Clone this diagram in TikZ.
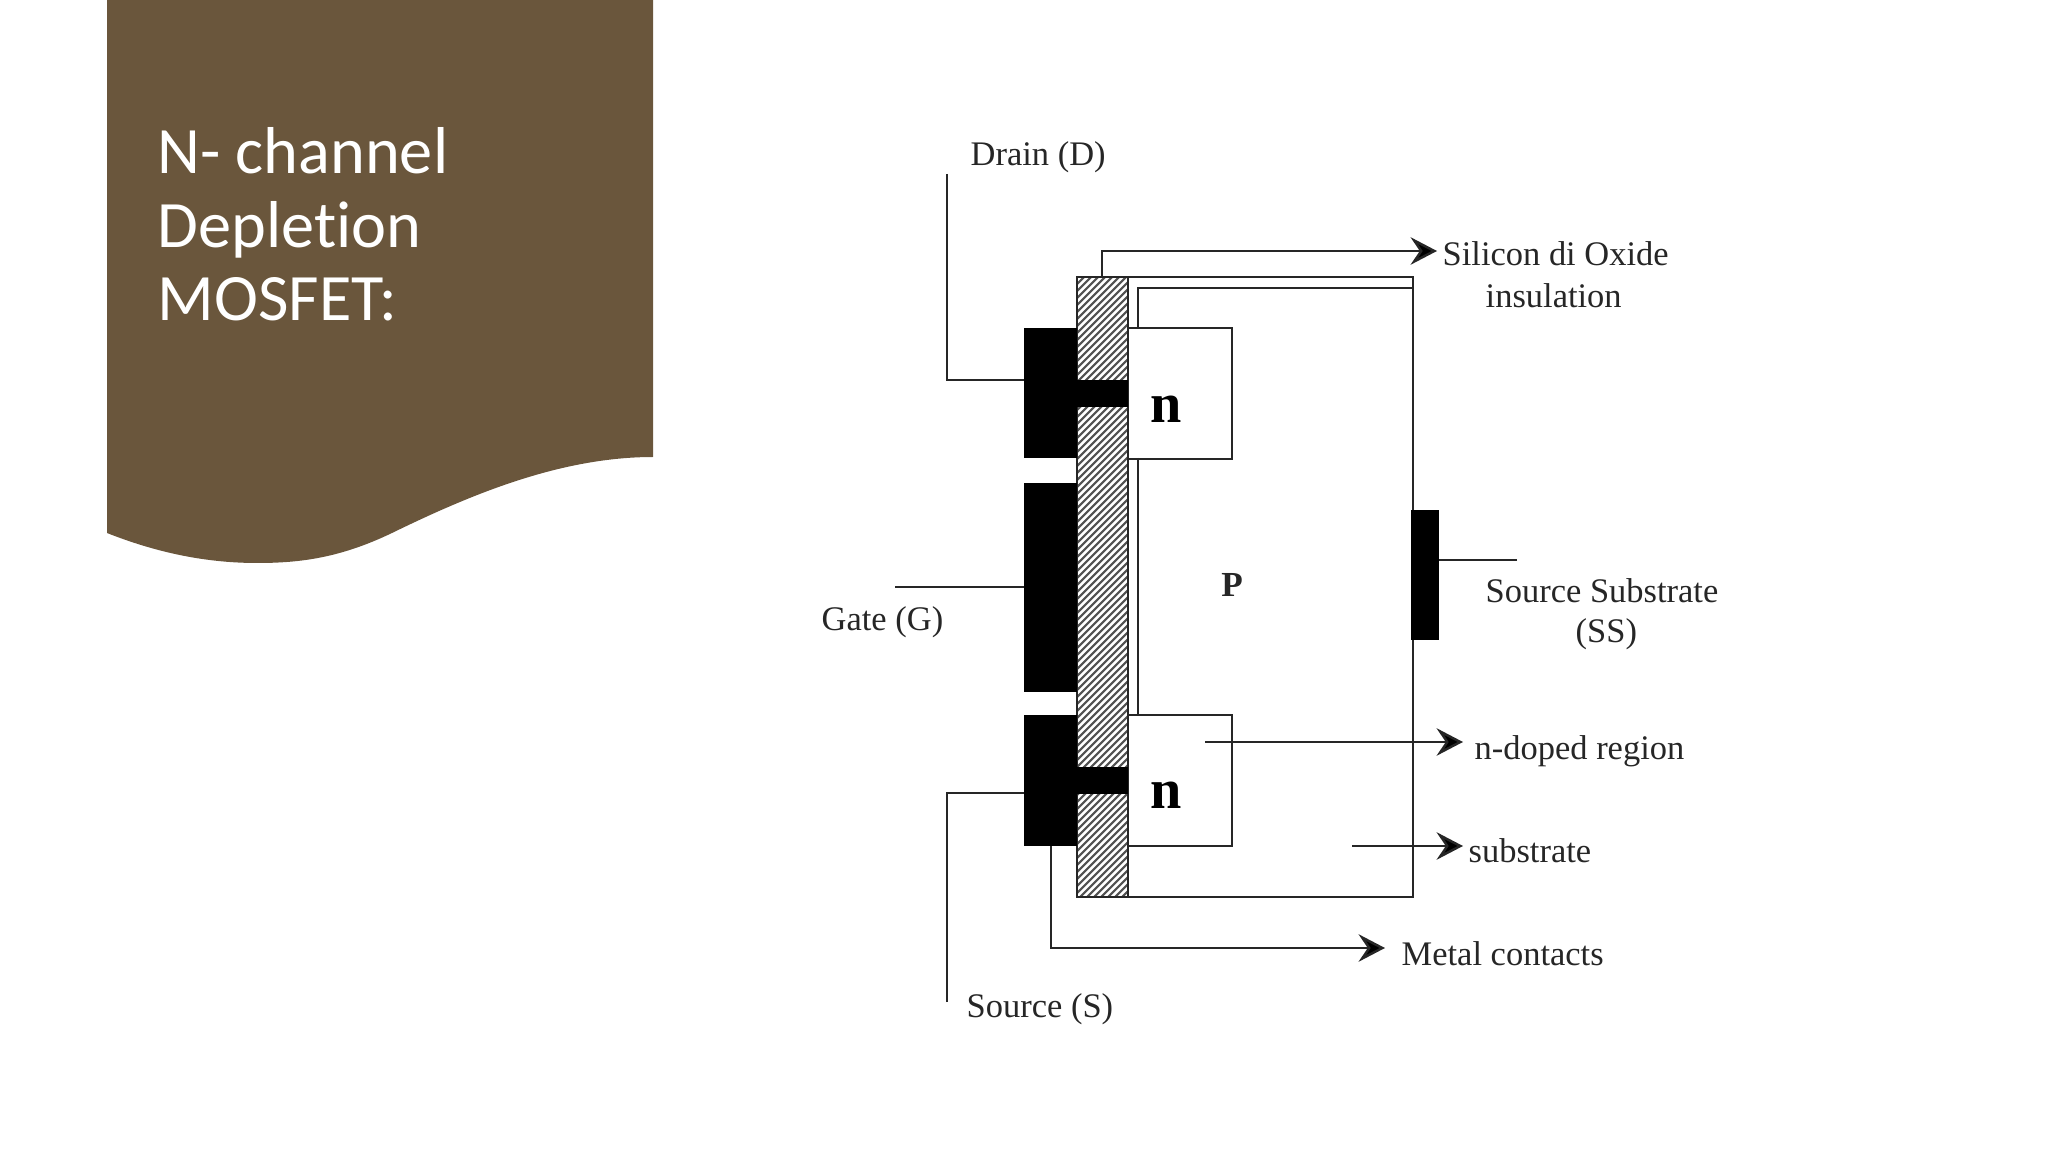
\documentclass[tikz,border=0pt]{standalone}
\usepackage{fontspec}
\setmainfont{Liberation Serif}
\newfontfamily\titlefont[Ligatures=CommonOff]{Carlito}
\usetikzlibrary{arrows.meta}
\definecolor{banner}{HTML}{6A563C}
\definecolor{inkline}{HTML}{262626}
\tikzset{
  wire/.style={draw=inkline,line width=0.7pt},
  leader/.style={wire,-{Stealth[length=7.5pt,width=7.8pt,inset=2.6pt,fill=black]}},
  hatch/.style={draw=inkline!80,line width=0.6pt},
  label/.style={anchor=west,inner sep=0pt,text=inkline,font=\fontsize{9.8}{12}\selectfont},
  dope/.style={inner sep=0pt,text=black,font=\fontsize{16}{16}\bfseries}
}
\begin{document}
\begin{tikzpicture}[x=0.01cm,y=-0.01cm]
  \useasboundingbox (0,0) rectangle (2048,1152);
  \fill[banner] (107,0) -- (653,0) -- (653,457)
    .. controls (560,457) and (470,495) .. (392,533)
    .. controls (340,558) and (300,563) .. (257,563)
    .. controls (200,563) and (150,550) .. (107,533) -- cycle;
  \node (title) [anchor=north west,align=left,text=white,inner sep=0pt,
    font=\titlefont\fontsize{18.85}{20.9}\selectfont] at (157,127)
    {N- channel\\Depletion\\MOSFET:};

  \begin{scope}
    \clip (1077,277) rectangle (1128,897);
    \foreach \i in {0,...,96}
    {
      \pgfmathsetmacro{\x}{(457 + \i*7)};
      \draw[hatch] (\x,897) -- ++(640,-640);
    }
  \end{scope}
  \draw[wire] (1077,277) rectangle (1128,897);
  \draw[wire] (1128,277) -- (1413,277) -- (1413,897) -- (1128,897);
  \draw[wire] (1138,328) -- (1138,288) -- (1413,288);
  \draw[wire] (1138,458) -- (1138,715);
  \foreach \y in {328,715}
  {
    \draw[wire] (1128,\y) rectangle ++(104,131);
  }

  \fill (1024,328) rectangle (1077,458);
  \fill (1024,483) rectangle (1077,692);
  \fill (1024,715) rectangle (1077,846);
  \fill (1077,380) rectangle (1128,407);
  \fill (1077,767) rectangle (1128,794);
  \fill (1411,510) rectangle (1439,640);

  \node (welldrain) [dope] at (1166,409) {n};
  \node (wellsource) [dope] at (1166,795) {n};
  \node (body) [inner sep=0pt,text=inkline,font=\fontsize{10}{12}\bfseries] at (1232,585) {P};

  \node (drainlabel) [label] at (970,157) {Drain (D)};
  \node (oxidelabel) [label] at (1442,254) {Silicon di Oxide};
  \node (insulationlabel) [label] at (1485,296) {insulation};
  \node (gatelabel) [label] at (821,622) {Gate (G)};
  \node (substratepinlabel) [label] at (1485,591) {Source Substrate};
  \node (sslabel) [label] at (1575,634) {(SS)};
  \node (ndopedlabel) [label] at (1474,751) {n-doped region};
  \node (substratelabel) [label] at (1468,851) {substrate};
  \node (metallabel) [label] at (1401,954) {Metal contacts};
  \node (sourcelabel) [label] at (966,1009) {Source (S)};

  \coordinate (draintop) at (947,174);
  \coordinate (drainpad) at (1024,380);
  \coordinate (gateend) at (895,587);
  \coordinate (gatepad) at (1024,587);
  \coordinate (sourceend) at (947,1002);
  \coordinate (sourcepad) at (1024,793);
  \coordinate (ssend) at (1517,560);
  \coordinate (sspad) at (1439,560);
  \draw[wire] (draintop) |- (drainpad);
  \draw[wire] (gateend) -- (gatepad);
  \draw[wire] (sourceend) |- (sourcepad);
  \draw[wire] (ssend) -- (sspad);

  \coordinate (oxidetap) at (1102,277);
  \coordinate (oxidetip) at (1437,251);
  \coordinate (metaltap) at (1051,846);
  \coordinate (metaltip) at (1385,948);
  \coordinate (ndopedtail) at (1205,742);
  \coordinate (ndopedtip) at (1463,742);
  \coordinate (substratetail) at (1352,846);
  \coordinate (substratetip) at (1463,846);
  \draw[leader] (oxidetap) |- (oxidetip);
  \draw[leader] (metaltap) |- (metaltip);
  \draw[leader] (ndopedtail) -- (ndopedtip);
  \draw[leader] (substratetail) -- (substratetip);
\end{tikzpicture}
\end{document}
